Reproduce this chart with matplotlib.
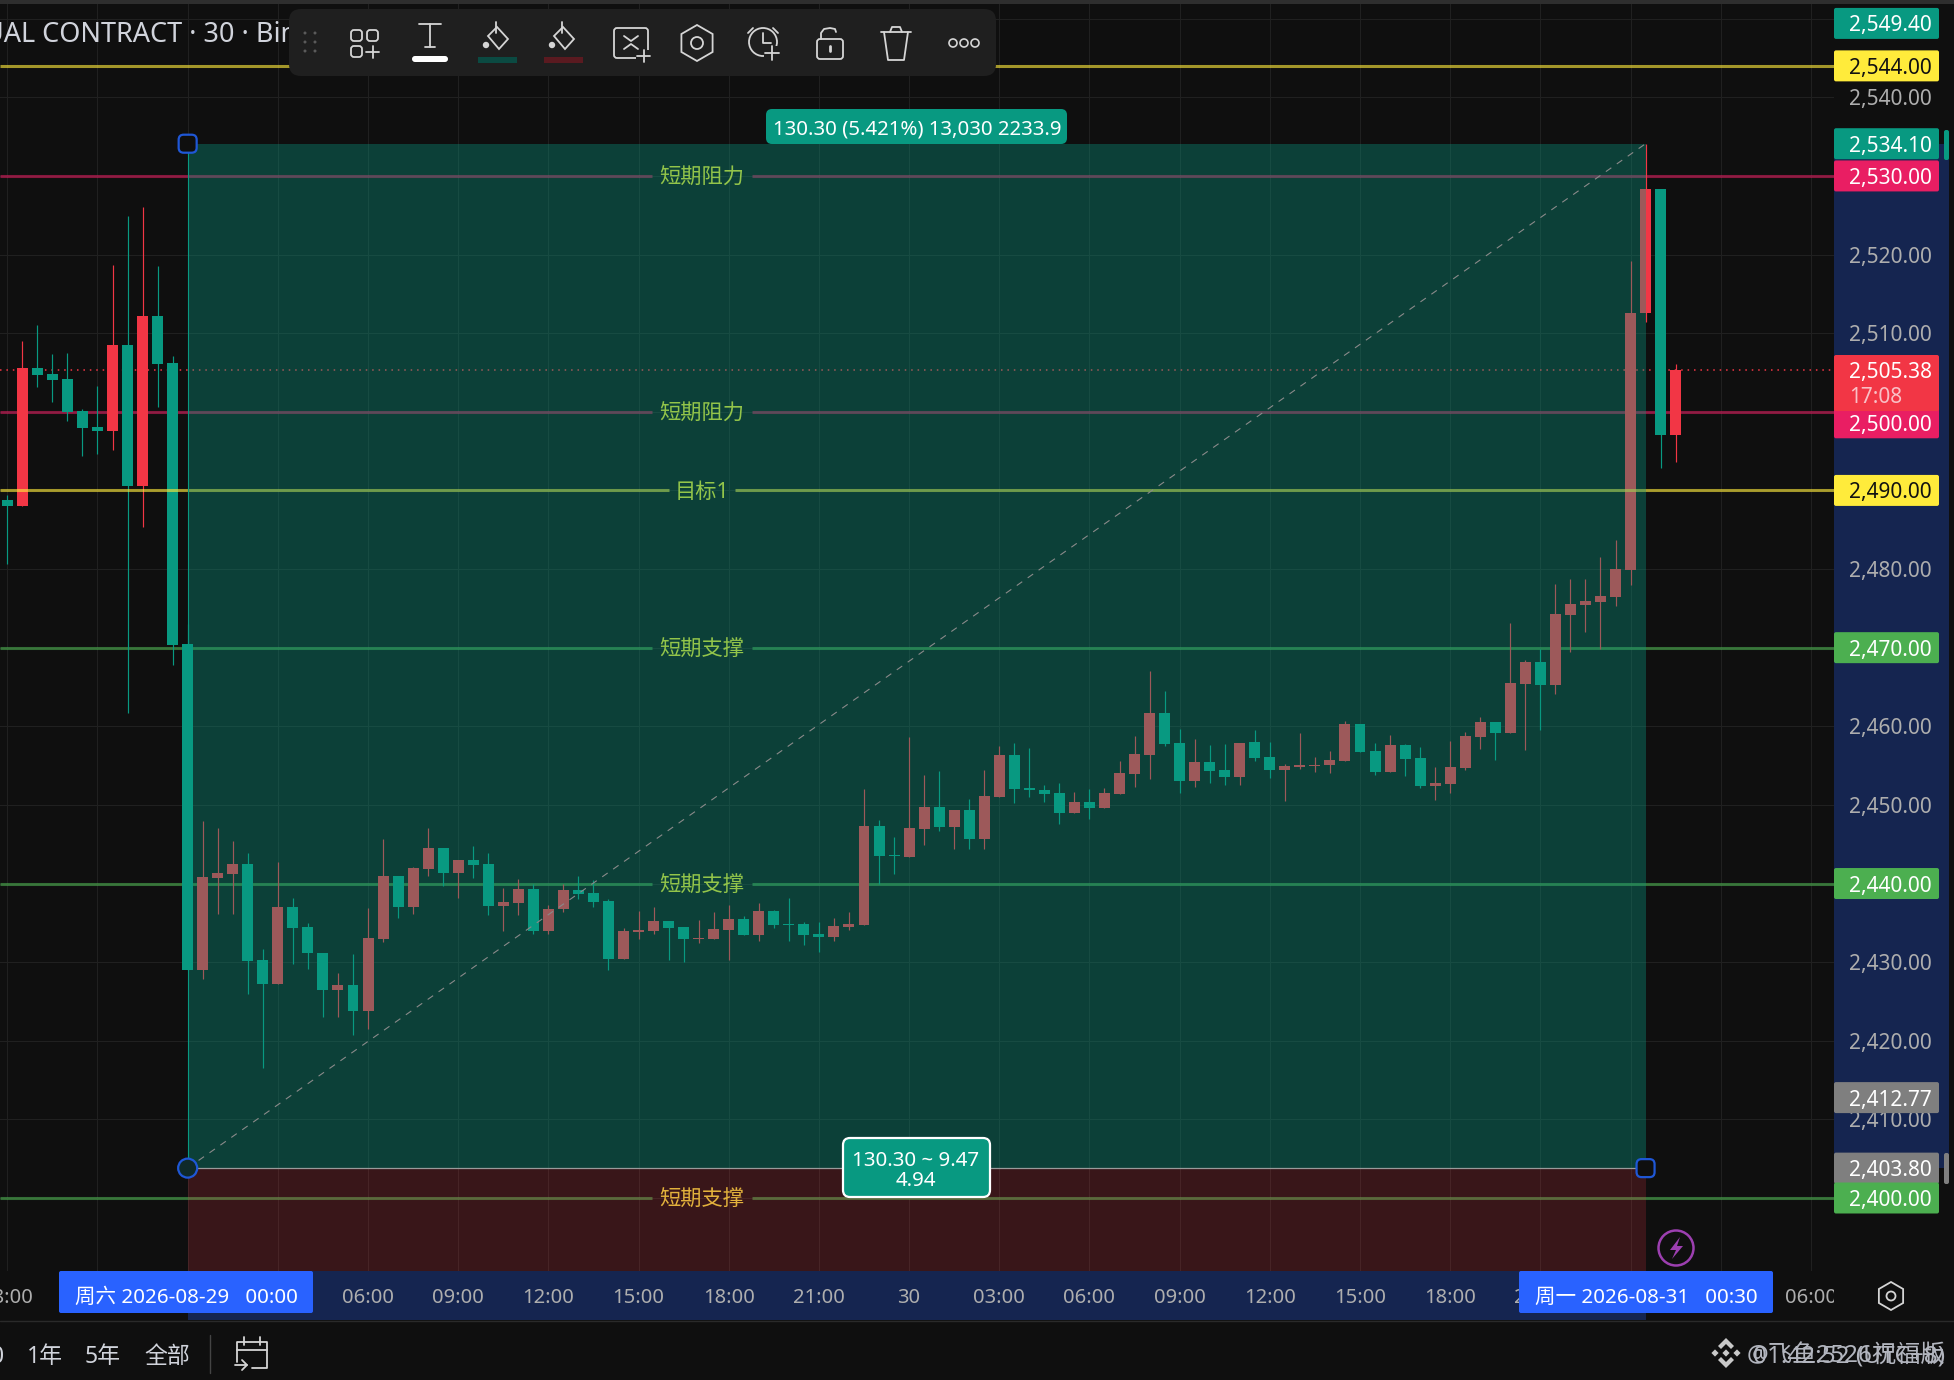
import numpy as np
import matplotlib
matplotlib.use("Agg")
import matplotlib.pyplot as plt
from matplotlib.patches import Rectangle, FancyBboxPatch, Circle, Polygon, RegularPolygon

plt.rcParams['font.family'] = ['Noto Sans', 'Noto Sans CJK SC', 'DejaVu Sans']

# 30 minute candles
opens = [2488.72,2487.96,2505.51,2504.75,2504.11,2500.04,2498.01,2497.50,2508.56,2490.50,
         2512.13,2506.15,2470.43,2429.06,2440.68,2441.19,2442.47,2430.21,2427.28,2436.98,
         2434.43,2431.11,2426.51,2427.15,2423.83,2432.89,2440.94,2436.98,2441.83,2444.51,
         2441.32,2442.98,2442.47,2437.11,2437.49,2439.28,2433.91,2436.72,2439.15,2438.77,
         2437.74,2430.34,2433.79,2433.91,2435.19,2434.43,2432.89,2432.89,2434.06,2435.46,
         2433.43,2436.48,2434.83,2434.83,2433.56,2433.17,2434.45,2434.70,2447.32,2443.62,
         2443.36,2446.94,2449.74,2447.19,2449.36,2445.66,2451.02,2456.38,2452.17,2451.91,
         2451.53,2448.98,2450.38,2449.62,2451.40,2453.96,2456.38,2461.74,2457.91,2453.06,
         2455.49,2454.47,2453.57,2457.96,2456.05,2454.40,2454.78,2454.91,2455.03,2455.54,
         2460.25,2456.81,2454.14,2457.58,2455.92,2452.36,2452.62,2454.65,2458.59,2460.50,
         2459.10,2465.34,2468.13,2465.21,2474.11,2475.38,2475.77,2476.40,2479.84,2512.51,2528.28,2496.99]
closes = [2487.96,2505.51,2504.62,2503.99,2499.92,2497.88,2497.50,2508.56,2490.50,2512.13,
          2506.02,2470.34,2429.06,2440.81,2441.32,2442.47,2430.09,2427.28,2436.98,2434.30,
          2431.11,2426.51,2427.15,2423.83,2433.02,2440.94,2436.98,2441.96,2444.51,2441.32,
          2442.98,2442.34,2437.11,2437.62,2439.28,2433.91,2436.72,2439.15,2438.64,2437.62,
          2430.34,2433.91,2434.04,2435.19,2434.30,2432.89,2433.02,2434.17,2435.46,2433.43,
          2436.48,2434.70,2434.70,2433.43,2433.17,2434.57,2434.83,2447.32,2443.49,2443.49,
          2447.06,2449.74,2447.19,2449.36,2445.66,2451.15,2456.38,2452.04,2451.91,2451.40,
          2448.98,2450.38,2449.62,2451.53,2454.09,2456.51,2461.74,2457.79,2453.06,2455.49,
          2454.34,2453.57,2457.91,2455.92,2454.40,2454.91,2455.03,2455.03,2455.67,2460.25,
          2456.69,2454.14,2457.58,2455.80,2452.36,2452.74,2454.78,2458.72,2460.50,2459.10,
          2465.46,2468.13,2465.21,2474.24,2475.51,2475.89,2476.53,2479.96,2512.63,2528.28,2496.99,2505.38]
highs = [2489.36,2508.95,2510.98,2507.29,2507.42,2500.30,2503.22,2518.61,2524.85,2525.99,
         2518.49,2507.04,2472.98,2447.96,2447.06,2445.40,2443.87,2431.62,2442.72,2438.13,
         2434.94,2431.11,2428.68,2430.98,2436.85,2445.66,2440.94,2442.09,2447.06,2444.51,
         2442.98,2444.77,2443.87,2439.40,2440.55,2439.91,2437.23,2439.91,2440.94,2440.43,
         2438.00,2434.30,2436.47,2436.98,2435.19,2434.43,2435.32,2436.34,2437.24,2435.85,
         2437.50,2436.61,2438.13,2435.08,2435.08,2435.59,2436.35,2452.04,2448.09,2445.91,
         2458.68,2453.83,2454.34,2449.36,2450.77,2454.47,2457.53,2457.91,2457.28,2452.55,
         2452.81,2451.66,2452.04,2452.17,2455.62,2458.81,2466.98,2464.43,2459.70,2458.43,
         2457.66,2457.79,2457.91,2459.49,2457.96,2455.16,2459.10,2456.05,2456.81,2460.63,
         2460.25,2457.83,2458.85,2457.70,2457.32,2454.78,2458.09,2459.23,2461.14,2460.50,
         2473.10,2468.39,2469.79,2478.06,2478.69,2478.69,2481.49,2483.65,2519.12,2534.10,2528.28,2506.02]
lows = [2480.58,2487.96,2503.10,2501.19,2498.77,2494.32,2494.57,2495.08,2461.70,2485.41,
        2500.55,2467.74,2429.06,2427.91,2436.09,2436.09,2426.00,2416.55,2427.28,2429.70,
        2429.19,2423.06,2423.06,2420.77,2421.53,2432.51,2435.57,2436.09,2440.94,2439.66,
        2438.13,2440.68,2435.96,2433.91,2435.96,2433.53,2433.53,2436.34,2438.00,2436.98,
        2429.06,2430.34,2432.89,2433.53,2430.21,2429.96,2432.38,2432.89,2430.25,2433.43,
        2432.67,2434.32,2432.67,2432.16,2431.27,2432.67,2434.06,2434.70,2439.91,2441.19,
        2443.36,2444.89,2446.68,2444.38,2444.38,2444.38,2451.02,2450.26,2451.02,2450.38,
        2447.57,2448.98,2448.21,2449.62,2451.40,2452.30,2453.32,2457.53,2451.53,2452.30,
        2452.81,2452.55,2452.55,2455.54,2453.38,2450.45,2454.52,2454.14,2454.02,2455.54,
        2456.69,2453.76,2454.14,2453.63,2452.11,2450.58,2451.47,2454.40,2457.07,2455.67,
        2459.10,2456.94,2459.49,2464.06,2469.41,2471.95,2469.79,2475.26,2477.93,2511.48,2492.80,2493.56]

# horizontal levels and their captions
level_prices = [2544, 2530, 2500, 2490, 2470, 2440, 2400]
level_labels = ["", "短期阻力", "短期阻力", "目标1", "短期支撑", "短期支撑", "短期支撑"]
level_colors = ['#FFEB3B', '#E91E63', '#E91E63', '#FFEB3B', '#4CAF50', '#4CAF50', '#4CAF50']
level_alpha = [0.62, 0.55, 0.55, 0.62, 0.6, 0.6, 0.6]
label_colors = ['', '#93C54A', '#93C54A', '#93C54A', '#93C54A', '#93C54A', '#E3B23C']
label_gaps = [0, 3.3, 3.3, 2.2, 3.3, 3.3, 3.3]

# long position tool
entry_price = 2403.80
target_price = 2534.10
stop_price = 2390.0
start_bar = 12
end_bar = 109
last_price = 2505.38

# price scale badges
badge_prices = [2549.40, 2544.00, 2534.10, 2530.00, 2500.00, 2505.38, 2490.00, 2470.00, 2440.00, 2412.77, 2403.80, 2400.00]
badge_colors = ['#089981', '#FFEB3B', '#089981', '#E91E63', '#E91E63', '#F23645', '#FFEB3B', '#4CAF50', '#4CAF50', '#7F7F7F', '#7F7F7F', '#4CAF50']
badge_text = ['white', '#111111', 'white', 'white', 'white', 'white', '#111111', 'white', 'white', 'white', 'white', 'white']

price_ticks = list(range(2400, 2551, 10))
time_pos = list(range(0, 121, 6))
time_labels = ["18:00", "21:00", "00:00", "03:00", "06:00", "09:00", "12:00", "15:00", "18:00", "21:00", "30",
               "03:00", "06:00", "09:00", "12:00", "15:00", "18:00", "21:00", "00:00", "03:00", "06:00"]

range_labels = ["1年", "5年", "全部"]
range_x = [45, 103, 167]

BG = '#0F0F0F'
NAVY = '#152550'
UP = '#F23645'
DOWN = '#089981'
W, H = 1954, 1380
AX_R, AX_T, AX_B = 1834, 4, 1271
BAR0, BAR_W = 7.3, 15.03
PX_2400, PX_UNIT = 1198.0, 7.862


def x_px(i):
    return BAR0 + BAR_W * i


def y_px(p):
    return PX_2400 - (p - 2400) * PX_UNIT


def px_axes(fig, z):
    a = fig.add_axes([0, 0, 1, 1], zorder=z)
    a.set_xlim(0, W)
    a.set_ylim(H, 0)
    a.axis('off')
    a.patch.set_alpha(0)
    return a


def line(a, xs, ys, color='#D5D5D5', lw=1.3, z=5):
    a.plot(xs, ys, color=color, lw=lw, solid_capstyle='round', zorder=z)


def rbox(a, x, y, w, h, fc='none', ec='none', lw=0, r=2, z=4):
    a.add_patch(FancyBboxPatch((x, y), w, h, boxstyle=f"round,pad=0,rounding_size={r}",
                               fc=fc, ec=ec, lw=lw, zorder=z))


def bucket(a, cx, color):
    a.add_patch(Polygon([[cx - 9, 36], [cx, 27], [cx + 11, 39], [cx + 2, 49]], closed=True, fc='none', ec='#D5D5D5', lw=1.3, zorder=5))
    line(a, [cx - 1, cx - 1], [22, 33])
    a.add_patch(Circle((cx - 11, 45), 3.2, fc='#D5D5D5', ec='none', zorder=5))
    a.add_patch(Rectangle((cx - 19, 57), 39, 6, fc=color, ec='none', zorder=5))


def draw_toolbar(a):
    rbox(a, 289, 9, 707, 67, fc='#1F1F1F', r=12)
    for dx in [305, 315]:
        for dy in [33, 42, 51]:
            a.add_patch(Circle((dx, dy), 1.5, fc='#5A5A5A', ec='none', zorder=5))
    rbox(a, 351, 30, 11, 11, ec='#D5D5D5', lw=1.3, r=3, z=5)
    rbox(a, 367, 30, 11, 11, ec='#D5D5D5', lw=1.3, r=3, z=5)
    rbox(a, 351, 46, 11, 11, ec='#D5D5D5', lw=1.3, r=3, z=5)
    line(a, [366, 379], [52, 52])
    line(a, [372.5, 372.5], [46, 58])
    # text tool
    line(a, [419, 441], [24, 24])
    line(a, [430, 430], [24, 47])
    line(a, [425, 435], [47, 47])
    rbox(a, 412, 56, 36, 6, fc='white', r=3, z=5)
    bucket(a, 497, '#0B4A42')
    bucket(a, 563, '#5A1A20')
    # chart and plus
    rbox(a, 614, 28, 34, 30, ec='#D5D5D5', lw=1.3, r=3, z=5)
    line(a, [624, 631, 638], [36, 41, 36])
    line(a, [624, 631, 638], [49, 44, 49])
    a.add_patch(Rectangle((636, 50), 16, 12, fc='#1F1F1F', ec='none', zorder=5))
    line(a, [637, 650], [56, 56])
    line(a, [643.5, 643.5], [50, 62])
    a.add_patch(RegularPolygon((697, 43), 6, radius=18, fc='none', ec='#D5D5D5', lw=1.3, zorder=5))
    a.add_patch(Circle((697, 43), 6, fc='none', ec='#D5D5D5', lw=1.3, zorder=5))
    # alarm
    a.add_patch(Circle((763, 42), 14, fc='none', ec='#D5D5D5', lw=1.3, zorder=5))
    line(a, [763, 763, 771], [33, 43, 43])
    line(a, [748, 753], [33, 28])
    line(a, [773, 778], [28, 33])
    a.add_patch(Rectangle((764, 46), 16, 16, fc='#1F1F1F', ec='none', zorder=5))
    line(a, [765, 779], [53, 53])
    line(a, [772, 772], [46, 60])
    # lock
    rbox(a, 817, 39, 26, 20, ec='#D5D5D5', lw=1.3, r=3, z=5)
    line(a, [821, 821, 824, 830, 835, 836], [39, 33, 29, 28, 29, 32])
    line(a, [830, 830], [46, 51], lw=2)
    # trash
    line(a, [881, 911], [32, 32])
    line(a, [884, 888, 904, 908], [32, 60, 60, 32])
    line(a, [890, 892, 900, 902], [32, 27, 27, 32])
    for dx in [953, 964, 975]:
        a.add_patch(Circle((dx, 43), 4, fc='none', ec='#D5D5D5', lw=1.2, zorder=5))


fig = plt.figure(figsize=(W / 100, H / 100), dpi=100, facecolor=BG)

# bands under the tick labels
back = px_axes(fig, 0)
back.add_patch(Rectangle((AX_R, y_px(target_price)), 115, y_px(entry_price) - y_px(target_price), fc=NAVY, ec='none'))
back.add_patch(Rectangle((x_px(start_bar), AX_B), x_px(end_bar) - x_px(start_bar), 49, fc=NAVY, ec='none'))

ax = fig.add_axes([0, 1 - AX_B / H, AX_R / W, (AX_B - AX_T) / H], zorder=1)
ax.patch.set_alpha(0)
ax.set_xlim(-BAR0 / BAR_W, (AX_R - BAR0) / BAR_W)
ax.set_ylim(2400 + (PX_2400 - AX_B) / PX_UNIT, 2400 + (PX_2400 - AX_T) / PX_UNIT)
for s in ax.spines.values():
    s.set_visible(False)
ax.yaxis.tick_right()
ax.set_yticks(price_ticks)
ax.set_yticklabels([f"{p:,.2f}" for p in price_ticks])
ax.set_xticks(time_pos)
ax.set_xticklabels(time_labels)
ax.tick_params(axis='y', length=0, pad=10.8, labelsize=15, labelcolor='#AEAEAE')
ax.tick_params(axis='x', length=0, pad=12.4, labelsize=14.5, labelcolor='#AEAEAE')
for t in ax.get_yticklabels():
    t.set_verticalalignment('center_baseline')
ax.grid(True, color='#202020', lw=0.8, zorder=0)
ax.set_axisbelow(True)

x0, x1 = ax.get_xlim()
label_x = (702 - BAR0) / BAR_W
ax.axhline(last_price, color=UP, lw=1.1, ls=(0, (1, 3.2)), zorder=1.5)
for p, lab, c, al, gap in zip(level_prices, level_labels, level_colors, level_alpha, label_gaps):
    z = 3.5 if c == '#FFEB3B' else 1.6
    if lab:
        ax.hlines([p, p], [x0, label_x + gap], [label_x - gap, x1], color=c, alpha=al, lw=2.2, zorder=z)
    else:
        ax.hlines(p, x0, x1, color=c, alpha=al, lw=2.2, zorder=z)

# candles
xs = np.arange(len(opens))
o, h, l, c = map(np.array, (opens, highs, lows, closes))
cols = np.where(c >= o, UP, DOWN)
ax.vlines(xs, l, h, colors=cols, lw=0.85, zorder=2)
ax.bar(xs, np.abs(c - o), bottom=np.minimum(o, c), width=0.73, color=cols, lw=0, zorder=3)

# long position box sits over the candles
ax.add_patch(Rectangle((start_bar, entry_price), end_bar - start_bar, target_price - entry_price,
                       fc=DOWN, alpha=0.36, ec='none', zorder=4))
ax.add_patch(Rectangle((start_bar, stop_price), end_bar - start_bar, entry_price - stop_price,
                       fc=UP, alpha=0.19, ec='none', zorder=4))
ax.plot([start_bar, start_bar], [entry_price, target_price], color=DOWN, lw=0.8, zorder=4.5)
ax.plot([start_bar, end_bar], [entry_price, entry_price], color='#9A9A9A', lw=0.9, zorder=4.5)
ax.plot([start_bar, end_bar], [entry_price, target_price], color='#8A8A8A', lw=0.8, ls=(0, (6, 6)), zorder=4.5)

for p, lab, c_ in zip(level_prices, level_labels, label_colors):
    if lab:
        ax.text(label_x, p, lab, color=c_, fontsize=15.3, ha='center', va='center_baseline', zorder=6)

# everything on top: pixel coordinates
ov = px_axes(fig, 2)
ov.add_patch(Rectangle((0, 0), W, 4, fc='#2E2E2E', ec='none', zorder=1))
ov.text(-16, 32, "UAL CONTRACT · 30 · Bin", color='#D1D4DC', fontsize=19.5, ha='left', va='center_baseline', zorder=2)
draw_toolbar(ov)

# bubbles of the position tool
rbox(ov, 766, 109, 301, 35, fc=DOWN, r=6)
ov.text(917, 127, "130.30 (5.421%) 13,030 2233.9", color='white', fontsize=14.7, ha='center', va='center_baseline', zorder=5)
rbox(ov, 843, 1138, 147, 59, fc=DOWN, ec='white', lw=1.6, r=7)
ov.text(916, 1158, "130.30 ~ 9.47", color='white', fontsize=14.8, ha='center', va='center_baseline', zorder=5)
ov.text(916, 1179, "4.94", color='white', fontsize=14.8, ha='center', va='center_baseline', zorder=5)

# blue handles
hx0, hx1 = x_px(start_bar), x_px(end_bar)
rbox(ov, hx0 - 9, y_px(target_price) - 9, 18, 18, ec='#1F57D6', lw=1.6, fc=BG, r=5, z=6)
ov.add_patch(Circle((hx0, y_px(entry_price)), 9.5, ec='#1F57D6', lw=1.6, fc='#0F2A2A', zorder=6))
rbox(ov, hx1 - 9, y_px(entry_price) - 9, 18, 18, ec='#1F57D6', lw=1.6, fc=BG, r=5, z=6)

# price badges
for p, col, tc in zip(badge_prices, badge_colors, badge_text):
    yc = y_px(p)
    if p == 2500.00:
        yc += 11
    if p == 2505.38:
        rbox(ov, AX_R, 355, 105, 56, fc=col, r=2, z=4)
        ov.text(1849, 370, f"{p:,.2f}", color=tc, fontsize=15, ha='left', va='center_baseline', zorder=5)
        ov.text(1849, 395, "17:08", color='#F9C0C5', fontsize=15, ha='left', va='center_baseline', zorder=5)
    else:
        rbox(ov, AX_R, yc - 15.5, 105, 31, fc=col, r=2, z=3)
        ov.text(1849, yc, f"{p:,.2f}", color=tc, fontsize=15, ha='left', va='center_baseline', zorder=5)
rbox(ov, 1944, 130, 5, 30, fc=DOWN, r=2)
rbox(ov, 1944, 1153, 5, 31, fc='#7F7F7F', r=2)

# date highlights on the time axis
rbox(ov, 59, 1271, 254, 42, fc='#2962FF', r=2)
ov.text(186, 1295, "周六 2026-08-29   00:00", color='white', fontsize=14.8, ha='center', va='center_baseline', zorder=5)
rbox(ov, 1519, 1271, 254, 42, fc='#2962FF', r=2)
ov.text(1646, 1295, "周一 2026-08-31   00:30", color='white', fontsize=14.8, ha='center', va='center_baseline', zorder=5)

# corner with settings, covers the clipped 06:00
ov.add_patch(Rectangle((AX_R, AX_B), W - AX_R, 49, fc=BG, ec='none', zorder=3))
ov.add_patch(RegularPolygon((1891, 1296), 6, radius=14, fc='none', ec='#D5D5D5', lw=1.3, zorder=5))
ov.add_patch(Circle((1891, 1296), 4.5, fc='none', ec='#D5D5D5', lw=1.3, zorder=5))

# lightning button
ov.add_patch(Circle((1676, 1248), 17.5, fc='none', ec='#9C3FB0', lw=1.8, zorder=5))
ov.add_patch(Polygon([[1680, 1237], [1670, 1250], [1676, 1250], [1672, 1259], [1683, 1246], [1677, 1246]], closed=True,
                     fc='#9C3FB0', ec='none', zorder=5))

# bottom strip
ov.add_patch(Rectangle((0, 1320), W, 60, fc=BG, ec='none', zorder=3))
line(ov, [0, W], [1320.5, 1320.5], color='#2A2A2A', lw=1, z=4)
ov.text(4, 1354, "0", color='#D1D4DC', fontsize=16.5, ha='right', va='center_baseline', zorder=5)
for lx, lt in zip(range_x, range_labels):
    ov.text(lx, 1354, lt, color='#D1D4DC', fontsize=16.5, ha='center', va='center_baseline', zorder=5)
line(ov, [210, 210], [1335, 1373], color='#444444', lw=1)
line(ov, [237, 237, 267, 267, 252], [1362, 1342, 1342, 1368, 1368])
line(ov, [237, 267], [1350, 1350])
line(ov, [244, 244], [1337, 1345])
line(ov, [260, 260], [1337, 1345])
line(ov, [235, 247, 242], [1365, 1365, 1360])
line(ov, [247, 242], [1365, 1370])

# binance mark and the two overlapping stamps
bx, by = 1726, 1353
for s in [1, -1]:
    ov.add_patch(Polygon([[bx, by - s * 15], [bx + 8, by - s * 7], [bx + 5, by - s * 4], [bx, by - s * 9],
                          [bx - 5, by - s * 4], [bx - 8, by - s * 7]], closed=True, fc='#C9C9C9', ec='none', zorder=5))
for dx, rad in [(-11, 3.6), (11, 3.6), (0, 3.6)]:
    ov.add_patch(RegularPolygon((bx + dx, by), 4, radius=rad, fc='#C9C9C9', ec='none', zorder=5))
ov.text(1945, 1353, "@飞鱼2526祝福版", color='#B2B5BE', fontsize=17.5, ha='right', va='center_baseline', zorder=5)
ov.text(1945, 1353, "01:42:52 (UTC+8)", color='#B2B5BE', fontsize=17.5, ha='right', va='center_baseline', zorder=5)

fig.savefig("out.png", dpi=100, facecolor=BG)
